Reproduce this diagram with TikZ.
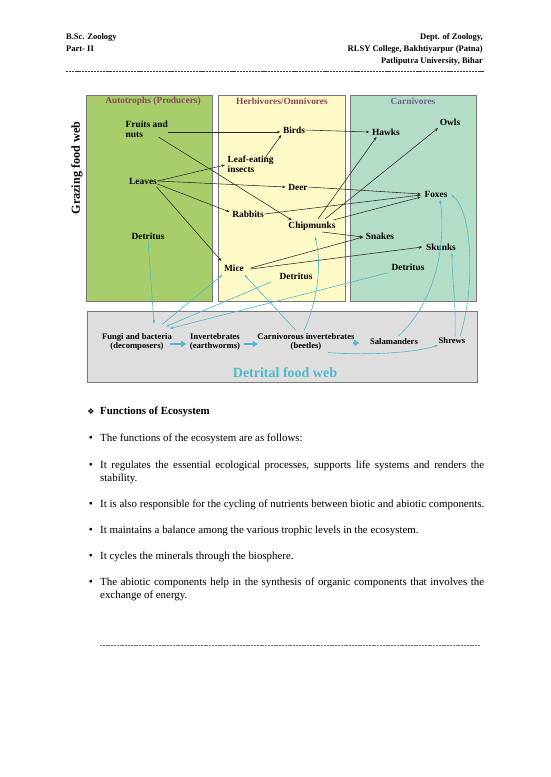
\documentclass[tikz,border=0pt]{standalone}
\usepackage{fontspec}
\setmainfont{Liberation Serif}
\newfontfamily\djv{DejaVu Sans}
\usetikzlibrary{arrows.meta,calc}
\definecolor{gfill}{RGB}{168,206,108}
\definecolor{yfill}{RGB}{254,250,200}
\definecolor{tfill}{RGB}{180,221,200}
\definecolor{dfill}{RGB}{222,222,222}
\definecolor{bord}{RGB}{120,120,120}
\definecolor{cy}{RGB}{78,184,204}
\definecolor{hdr}{RGB}{140,70,90}
\definecolor{hdrc}{RGB}{112,96,140}
\begin{document}
\begin{tikzpicture}[x=1pt,y=-1pt,
  lbl/.style={font=\fontsize{9.4}{10.2}\selectfont\bfseries, inner sep=0.5pt, align=left},
  dlbl/.style={font=\fontsize{8.6}{9.8}\selectfont\bfseries, inner sep=0.5pt, align=center},
  hlbl/.style={font=\fontsize{9.4}{10}\selectfont\bfseries, inner sep=0pt},
  arr/.style={-{Stealth[length=3.5pt,width=2.6pt]}, line width=0.55pt, black!85},
  carr/.style={-{Stealth[length=3.5pt,width=2.6pt]}, line width=0.6pt, cy},
  fat/.style={-{Triangle[length=5pt,width=6pt]}, line width=1.6pt, cy},
  hd/.style={font=\fontsize{8.5}{9.5}\selectfont\bfseries, inner sep=0pt},
  body/.style={font=\fontsize{10.9}{12}\selectfont, inner sep=0pt, anchor=base west},
  bul/.style={font=\fontsize{11.5}{12}\selectfont, inner sep=0pt, anchor=base},
  regbox/.style={draw=bord, line width=0.8pt}
]
\useasboundingbox (0,0) rectangle (550,777);
\fill[white] (0,0) rectangle (550,777);

% header
\node[hd, anchor=west] (h1) at (66,37) {B.Sc. Zoology};
\node[hd, anchor=west] (h2) at (66,49) {Part- II};
\node[hd, anchor=east] (h3) at (483,37) {Dept. of Zoology,};
\node[hd, anchor=east] (h4) at (483,49) {RLSY College, Bakhtiyarpur (Patna)};
\node[hd, anchor=east] (h5) at (483,61) {Patliputra University, Bihar};
\coordinate (hl1) at (66,71);
\coordinate (hl2) at (484,71);
\draw[black!80, line width=0.9pt, dash pattern=on 2.2pt off 0.9pt] (hl1) -- (hl2);

% regions
\draw[regbox, fill=gfill] (86,95) rectangle (212,301);
\draw[regbox, fill=yfill] (218,95) rectangle (345,301);
\draw[regbox, fill=tfill] (350,95) rectangle (476,301);
\draw[regbox, fill=dfill] (87,311) rectangle (477,382);

\node[hlbl, text=hdr] (hA) at (153,101) {Autotrophs (Producers)};
\node[hlbl, text=hdr] (hH) at (282,101) {Herbivores/Omnivores};
\node[hlbl, text=hdrc] (hC) at (413,101) {Carnivores};
\node[font=\fontsize{12.2}{12}\selectfont\bfseries, rotate=90, inner sep=0pt] (graz) at (77,168) {Grazing food web};

% grazing nodes
\node[lbl, anchor=west] (fruits) at (125,129) {Fruits and\\nuts};
\node[lbl] (leaves) at (143,181) {Leaves};
\node[lbl] (detg) at (148,236) {Detritus};
\node[lbl, anchor=west] (leafins) at (227,164) {Leaf-eating\\insects};
\node[lbl] (birds) at (294,130) {Birds};
\node[lbl] (deer) at (298,187) {Deer};
\node[lbl] (rabbits) at (248,214) {Rabbits};
\node[lbl] (chip) at (312,226) {Chipmunks};
\node[lbl] (mice) at (234,268) {Mice};
\node[lbl] (dety) at (296,276) {Detritus};
\node[lbl] (hawks) at (386,132) {Hawks};
\node[lbl] (owls) at (450,122) {Owls};
\node[lbl] (foxes) at (436,194) {Foxes};
\node[lbl] (snakes) at (380,236) {Snakes};
\node[lbl] (skunks) at (441,247) {Skunks};
\node[lbl] (dett) at (408,267) {Detritus};

% detrital nodes
\node[dlbl] (fungi) at (137,342) {Fungi and bacteria\\(decomposers)};
\node[dlbl] (inv) at (215,342) {Invertebrates\\(earthworms)};
\node[dlbl] (carninv) at (306,342) {Carnivorous invertebrates\\(beetles)};
\node[dlbl] (sal) at (394,342) {Salamanders};
\node[dlbl] (shrews) at (452,341) {Shrews};
\node[font=\fontsize{14}{14}\selectfont\bfseries, text=cy, inner sep=0pt] (detweb) at (285,373) {Detrital food web};

% black arrows
\draw[arr] ($(fruits.east)+(0,3)$) -- ($(birds.west)+(-2,2)$);
\draw[arr] ($(fruits.east)+(-10,8)$) -- ($(chip.north west)+(4,-1)$);
\draw[arr] (leaves.east) -- ($(leafins.west)+(-2,1)$);
\draw[arr] (leaves.east) -- ($(deer.west)+(-2,0)$);
\draw[arr] ($(leaves.east)+(0,3)$) -- ($(rabbits.north west)+(-2,2)$);
\draw[arr] ($(leaves.south east)+(-1,2)$) -- ($(mice.north west)+(-2,-3)$);
\draw[arr] ($(leafins.north east)+(-10,4)$) -- ($(birds.south west)+(-1,1)$);
\draw[arr] (birds.east) -- ($(hawks.west)+(-2,0)$);
\draw[arr] (deer.east) -- ($(foxes.west)+(-3,0)$);
\draw[arr] (rabbits.east) -- ($(foxes.west)+(-3,1)$);
\draw[arr] ($(chip.north)+(6,-2)$) -- ($(hawks.south west)+(5,1)$);
\draw[arr] ($(chip.north)+(13,-2)$) -- ($(owls.south west)+(-1,2)$);
\draw[arr] ($(chip.north east)+(-3,-1)$) -- ($(foxes.west)+(-3,3)$);
\draw[arr] ($(chip.south)+(10,1)$) -- ($(snakes.west)+(-2,1)$);
\draw[arr] ($(mice.east)+(6,0)$) -- ($(snakes.west)+(-2,1)$);
\draw[arr] ($(mice.east)+(6,1)$) -- ($(skunks.west)+(-3,0)$);

% cyan arrows
\draw[carr] (detg.south) -- ($(fungi.north)+(17,-9)$);
\draw[carr] ($(fungi.north)+(25,-8)$) -- ($(mice.south west)+(-1,3)$);
\draw[carr] ($(dety.south west)+(-8,2)$) -- ($(fungi.north)+(29,-6)$);
\draw[carr] ($(dett.south west)+(-4,2)$) -- ($(fungi.north)+(33,-4)$);
\draw[carr] ($(carninv.north)+(-10,-2)$) -- ($(mice.south east)+(0,3)$);
\draw[carr] ($(carninv.north)+(-2,-2)$) .. controls (318,300) and (322,262) .. ($(chip.south)+(3,6)$);
\draw[carr] ($(sal.north)+(4,-2)$) .. controls (438,300) and (446,240) .. ($(foxes.south)+(4,2)$);
\draw[carr] ($(shrews.north)+(8,-1)$) .. controls (476,285) and (472,210) .. ($(foxes.east)+(3,1)$);
\draw[carr] ($(shrews.north)+(3,-1)$) .. controls (456,300) and (452,280) .. ($(skunks.south)+(11,2)$);
\draw[carr] ($(carninv.south)+(22,1)$) .. controls (370,356) and (420,352) .. ($(shrews.west)+(0,4)$);

% thick arrows
\draw[fat] ($(fungi.east)+(-3,2)$) -- ($(inv.west)+(-3,2)$);
\draw[fat] ($(inv.east)+(3,2)$) -- ($(carninv.west)+(1,2)$);
\draw[fat] ($(carninv.east)+(-2,1)$) -- ($(sal.west)+(-10,1)$);

% text
\node[font=\djv\fontsize{8}{9}\selectfont, inner sep=0pt, anchor=base] (dia) at (91,414) {❖};
\node[body, font=\fontsize{10.9}{12}\selectfont\bfseries] (t0) at (100,414) {Functions of Ecosystem};
\node[bul] (u1) at (91,441) {\textbullet};
\node[body] (t1) at (100,441) {The functions of the ecosystem are as follows:};
\node[bul] (u2) at (91,468) {\textbullet};
\node[body] (t2) at (100,468) {\hbox to 384pt{It regulates the essential ecological processes, supports life systems and renders the}};
\node[body] (t2b) at (100,481) {stability.};
\node[bul] (u3) at (91,507) {\textbullet};
\node[body] (t3) at (100,507) {\hbox to 384pt{It is also responsible for the cycling of nutrients between biotic and abiotic components.}};
\node[bul] (u4) at (91,533) {\textbullet};
\node[body] (t4) at (100,533) {It maintains a balance among the various trophic levels in the ecosystem.};
\node[bul] (u5) at (91,559) {\textbullet};
\node[body] (t5) at (100,559) {It cycles the minerals through the biosphere.};
\node[bul] (u6) at (91,585) {\textbullet};
\node[body] (t6) at (100,585) {\hbox to 384pt{The abiotic components help in the synthesis of organic components that involves the}};
\node[body] (t6b) at (100,598) {exchange of energy.};
\coordinate (fl1) at (100,645);
\coordinate (fl2) at (480,645);
\draw[black!55, line width=0.5pt, dash pattern=on 2pt off 0.8pt] (fl1) -- (fl2);
\end{tikzpicture}
\end{document}
